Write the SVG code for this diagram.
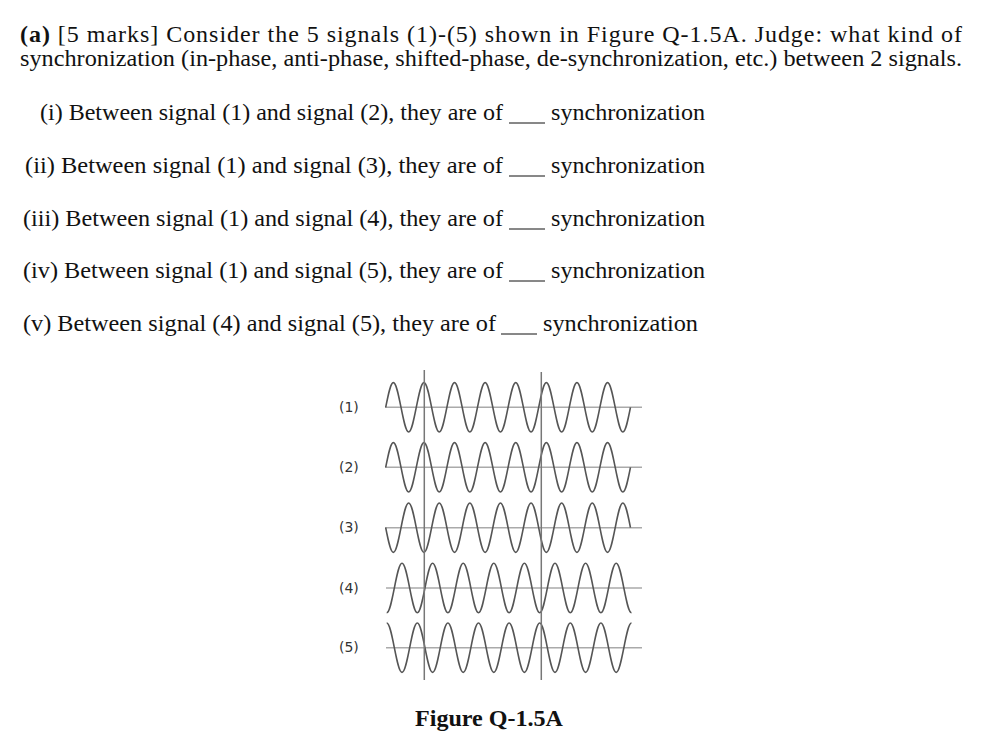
<svg xmlns="http://www.w3.org/2000/svg" width="986" height="744" viewBox="0 0 986 744">
<style>
text{font-family:"Liberation Serif","Times New Roman",serif;font-size:24px;fill:#111}
.lb{font-family:"DejaVu Sans","Liberation Sans",sans-serif;font-size:14px;fill:#333}
.w{fill:none;stroke:#555;stroke-width:1.6}
.ax{stroke:#aaa;stroke-width:1.5}
.v{stroke:#777;stroke-width:1.5}
.u{stroke:#111;stroke-width:1}
</style>
<defs>
<path id="p8" d="M0,0 c2.53,-12.8 4.87,-24.7 7.65,-24.7 c2.78,0 5.12,11.9 7.65,24.7 c2.53,12.8 4.87,24.7 7.65,24.7 c2.78,0 5.12,-11.9 7.65,-24.7 c2.53,-12.8 4.87,-24.7 7.65,-24.7 c2.78,0 5.12,11.9 7.65,24.7 c2.53,12.8 4.87,24.7 7.65,24.7 c2.78,0 5.12,-11.9 7.65,-24.7 c2.53,-12.8 4.87,-24.7 7.65,-24.7 c2.78,0 5.12,11.9 7.65,24.7 c2.53,12.8 4.87,24.7 7.65,24.7 c2.78,0 5.12,-11.9 7.65,-24.7 c2.53,-12.8 4.87,-24.7 7.65,-24.7 c2.78,0 5.12,11.9 7.65,24.7 c2.53,12.8 4.87,24.7 7.65,24.7 c2.78,0 5.12,-11.9 7.65,-24.7 c2.53,-12.8 4.87,-24.7 7.65,-24.7 c2.78,0 5.12,11.9 7.65,24.7 c2.53,12.8 4.87,24.7 7.65,24.7 c2.78,0 5.12,-11.9 7.65,-24.7 c2.53,-12.8 4.87,-24.7 7.65,-24.7 c2.78,0 5.12,11.9 7.65,24.7 c2.53,12.8 4.87,24.7 7.65,24.7 c2.78,0 5.12,-11.9 7.65,-24.7 c2.53,-12.8 4.87,-24.7 7.65,-24.7 c2.78,0 5.12,11.9 7.65,24.7 c2.53,12.8 4.87,24.7 7.65,24.7 c2.78,0 5.12,-11.9 7.65,-24.7 c2.53,-12.8 4.87,-24.7 7.65,-24.7 c2.78,0 5.12,11.9 7.65,24.7 c2.53,12.8 4.87,24.7 7.65,24.7 c2.78,0 5.12,-11.9 7.65,-24.7"/>
<path id="q8" d="M0,24.7 c2.78,0 5.12,-11.9 7.65,-24.7 c2.53,-12.8 4.87,-24.7 7.65,-24.7 c2.78,0 5.12,11.9 7.65,24.7 c2.53,12.8 4.87,24.7 7.65,24.7 c2.78,0 5.12,-11.9 7.65,-24.7 c2.53,-12.8 4.87,-24.7 7.65,-24.7 c2.78,0 5.12,11.9 7.65,24.7 c2.53,12.8 4.87,24.7 7.65,24.7 c2.78,0 5.12,-11.9 7.65,-24.7 c2.53,-12.8 4.87,-24.7 7.65,-24.7 c2.78,0 5.12,11.9 7.65,24.7 c2.53,12.8 4.87,24.7 7.65,24.7 c2.78,0 5.12,-11.9 7.65,-24.7 c2.53,-12.8 4.87,-24.7 7.65,-24.7 c2.78,0 5.12,11.9 7.65,24.7 c2.53,12.8 4.87,24.7 7.65,24.7 c2.78,0 5.12,-11.9 7.65,-24.7 c2.53,-12.8 4.87,-24.7 7.65,-24.7 c2.78,0 5.12,11.9 7.65,24.7 c2.53,12.8 4.87,24.7 7.65,24.7 c2.78,0 5.12,-11.9 7.65,-24.7 c2.53,-12.8 4.87,-24.7 7.65,-24.7 c2.78,0 5.12,11.9 7.65,24.7 c2.53,12.8 4.87,24.7 7.65,24.7 c2.78,0 5.12,-11.9 7.65,-24.7 c2.53,-12.8 4.87,-24.7 7.65,-24.7 c2.78,0 5.12,11.9 7.65,24.7 c2.53,12.8 4.87,24.7 7.65,24.7 c2.78,0 5.12,-11.9 7.65,-24.7 c2.53,-12.8 4.87,-24.7 7.65,-24.7 c2.78,0 5.12,11.9 7.65,24.7 c2.53,12.8 4.87,24.7 7.65,24.7"/>
</defs>
<rect width="986" height="744" fill="#fff"/>
<text x="20" y="42" textLength="942" lengthAdjust="spacing"><tspan font-weight="bold">(a)</tspan> [5 marks] Consider the 5 signals (1)-(5) shown in Figure Q-1.5A. Judge: what kind of</text>
<text x="20" y="66" textLength="942" lengthAdjust="spacingAndGlyphs">synchronization (in-phase, anti-phase, shifted-phase, de-synchronization, etc.) between 2 signals.</text>
<text x="40" y="120" textLength="463" lengthAdjust="spacingAndGlyphs">(i) Between signal (1) and signal (2), they are of</text>
<line class="u" x1="509" y1="123" x2="545" y2="123"/>
<text x="551" y="120" textLength="154" lengthAdjust="spacingAndGlyphs">synchronization</text>
<text x="25" y="173" textLength="478" lengthAdjust="spacingAndGlyphs">(ii) Between signal (1) and signal (3), they are of</text>
<line class="u" x1="509" y1="176" x2="545" y2="176"/>
<text x="551" y="173" textLength="154" lengthAdjust="spacingAndGlyphs">synchronization</text>
<text x="23" y="226" textLength="480" lengthAdjust="spacingAndGlyphs">(iii) Between signal (1) and signal (4), they are of</text>
<line class="u" x1="509" y1="229" x2="545" y2="229"/>
<text x="551" y="226" textLength="154" lengthAdjust="spacingAndGlyphs">synchronization</text>
<text x="23" y="278" textLength="480" lengthAdjust="spacingAndGlyphs">(iv) Between signal (1) and signal (5), they are of</text>
<line class="u" x1="509" y1="281" x2="545" y2="281"/>
<text x="551" y="278" textLength="154" lengthAdjust="spacingAndGlyphs">synchronization</text>
<text x="23" y="331" textLength="473" lengthAdjust="spacingAndGlyphs">(v) Between signal (4) and signal (5), they are of</text>
<line class="u" x1="501" y1="334" x2="537" y2="334"/>
<text x="543" y="331" textLength="155" lengthAdjust="spacingAndGlyphs">synchronization</text>

<g id="axes">
<line class="ax" x1="385" y1="407.3" x2="642" y2="407.3"/>
<line class="ax" x1="385" y1="467.3" x2="642" y2="467.3"/>
<line class="ax" x1="385" y1="527.7" x2="642" y2="527.7"/>
<line class="ax" x1="386" y1="588" x2="642" y2="588"/>
<line class="ax" x1="386" y1="647.7" x2="642" y2="647.7"/>
</g>
<g id="labels">
<text class="lb" x="339" y="412">(1)</text>
<text class="lb" x="339" y="472">(2)</text>
<text class="lb" x="339" y="532">(3)</text>
<text class="lb" x="339" y="593">(4)</text>
<text class="lb" x="339" y="652">(5)</text>
</g>
<g id="waves">
<use href="#p8" class="w" transform="translate(385.7,407.3)"/>
<use href="#p8" class="w" transform="translate(385.7,467.3)"/>
<use href="#p8" class="w" transform="translate(385.7,527.7) scale(1,-1)"/>
<use href="#q8" class="w" transform="translate(386.7,588)"/>
<use href="#q8" class="w" transform="translate(386.7,647.7) scale(1,-1)"/>
</g>
<g id="markers">
<line class="v" x1="424.3" y1="370" x2="424.3" y2="680"/>
<line class="v" x1="541.3" y1="372" x2="541.3" y2="680"/>
</g>
<text x="415" y="726" font-weight="bold" textLength="148" lengthAdjust="spacingAndGlyphs">Figure Q-1.5A</text>
</svg>
